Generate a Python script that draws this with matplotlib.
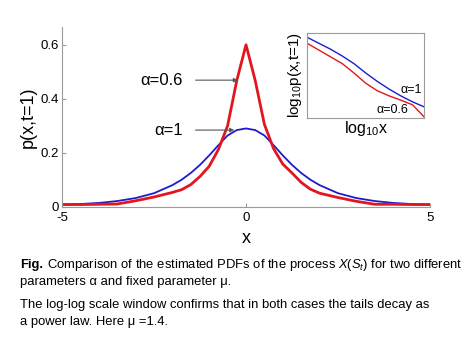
import numpy as np
import matplotlib.pyplot as plt

plt.rcParams['font.family'] = ['Liberation Sans', 'DejaVu Sans']
plt.rcParams['mathtext.fontset'] = 'custom'
plt.rcParams['mathtext.rm'] = 'Liberation Sans'
plt.rcParams['mathtext.it'] = 'Liberation Sans:italic'
plt.rcParams['mathtext.bf'] = 'Liberation Sans:bold'

# main panel: estimated PDFs
x_red = [-5, -4.5, -4, -3.5, -3, -2.5, -2, -1.75, -1.5, -1.25, -1, -0.75, -0.5, -0.25,
         0, 0.25, 0.5, 0.75, 1, 1.25, 1.5, 1.75, 2, 2.5, 3, 3.5, 4, 4.5, 5]
p_red = [0.008, 0.008, 0.009, 0.010, 0.022, 0.036, 0.053, 0.063, 0.082, 0.112, 0.150,
         0.212, 0.300, 0.468, 0.600, 0.468, 0.305, 0.215, 0.158, 0.125, 0.090, 0.065,
         0.050, 0.034, 0.020, 0.009, 0.009, 0.008, 0.008]

x_blue = [-5, -4.5, -4, -3.5, -3, -2.5, -2, -1.75, -1.5, -1.25, -1, -0.75, -0.5, -0.25,
          0, 0.25, 0.5, 0.75, 1, 1.25, 1.5, 1.75, 2, 2.5, 3, 3.5, 4, 4.5, 5]
p_blue = [0.008, 0.010, 0.014, 0.021, 0.032, 0.050, 0.080, 0.100, 0.125, 0.155, 0.190,
          0.228, 0.264, 0.284, 0.290, 0.284, 0.264, 0.228, 0.190, 0.155, 0.125, 0.100,
          0.080, 0.050, 0.032, 0.021, 0.014, 0.010, 0.008]

# inset: log-log tails (arbitrary units)
lx = [0, 0.1, 0.2, 0.3, 0.4, 0.5, 0.6, 0.7, 0.8, 0.9, 1.0]
lp_blue = [0.95, 0.88, 0.81, 0.73, 0.64, 0.53, 0.43, 0.34, 0.26, 0.19, 0.13]
lp_red = [0.88, 0.80, 0.72, 0.64, 0.53, 0.41, 0.32, 0.26, 0.21, 0.155, 0.01]

red = '#e3161d'
blue = '#1c1ccf'
gray = '#9a9a9a'

fig = plt.figure(figsize=(4.74, 3.55), dpi=100)
ax = fig.add_axes([0.1308, 0.4177, 0.7764, 0.5063])
ax.plot(x_blue, p_blue, color=blue, lw=1.3)
ax.plot(x_red, p_red, color=red, lw=2.0)
ax.set_xlim(-5, 5)
ax.set_ylim(0, 0.666)
ax.set_xticks([-5, 0, 5])
ax.set_xticklabels(['-5', '0', '5'])
ax.set_yticks([0, 0.2, 0.4, 0.6])
ax.set_yticklabels(['0', '0.2', '0.4', '0.6'])
for s in ['top', 'right']:
    ax.spines[s].set_visible(False)
for s in ['left', 'bottom']:
    ax.spines[s].set_color(gray)
ax.tick_params(direction='in', length=3, color=gray, labelsize=9.5, pad=2)
ax.tick_params(axis='x', pad=4)
ax.set_xlabel('x', fontsize=13, labelpad=4)
ax.set_ylabel('p(x,t=1)', fontsize=13, labelpad=3)

ax.annotate('α=0.6', xy=(-0.22, 0.469), xytext=(-1.71, 0.469),
            fontsize=12, ha='right', va='center',
            arrowprops=dict(arrowstyle='-|>', color='#555555', lw=0.8,
                            mutation_scale=6, shrinkA=7, shrinkB=0))
ax.annotate('α=1', xy=(-0.32, 0.284), xytext=(-1.71, 0.284),
            fontsize=12, ha='right', va='center',
            arrowprops=dict(arrowstyle='-|>', color='#555555', lw=0.8,
                            mutation_scale=6, shrinkA=7, shrinkB=0))

ins = fig.add_axes([0.6477, 0.6676, 0.2475, 0.2394])
ins.plot(lx, lp_blue, color=blue, lw=1.0)
ins.plot(lx, lp_red, color=red, lw=1.0)
ins.set_xlim(0, 1)
ins.set_ylim(0, 1)
ins.set_xticks([])
ins.set_yticks([])
for s in ins.spines.values():
    s.set_color(gray)
ins.set_xlabel('log$_{10}$x', fontsize=11.5, labelpad=1)
ins.set_ylabel('log$_{10}$p(x,t=1)', fontsize=11, labelpad=2)
ins.text(0.98, 0.33, 'α=1', fontsize=9, ha='right', va='center')
ins.text(0.86, 0.10, 'α=0.6', fontsize=9, ha='right', va='center')

cap = 9.4
fig.text(20 / 474, 1 - 265 / 355, 'Fig.', fontsize=cap, fontweight='bold',
         va='center')
fig.text(47 / 474, 1 - 265 / 355,
         r'Comparison of the estimated PDFs of the process $\mathit{X(S_t)}$ for two different',
         fontsize=cap, va='center')
fig.text(20 / 474, 1 - 282 / 355, 'parameters α and fixed parameter μ.',
         fontsize=cap, va='center')
fig.text(20 / 474, 1 - 305 / 355,
         'The log-log scale window confirms that in both cases the tails decay as',
         fontsize=cap, va='center')
fig.text(20 / 474, 1 - 322 / 355, 'a power law. Here μ =1.4.',
         fontsize=cap, va='center')

fig.savefig('out.png', dpi=100)
